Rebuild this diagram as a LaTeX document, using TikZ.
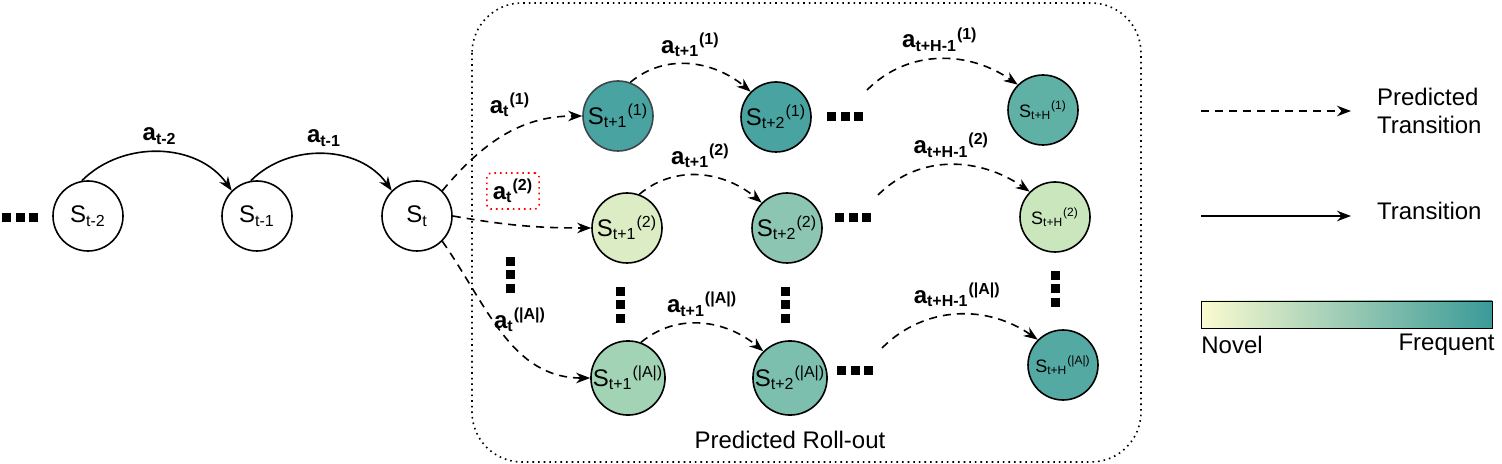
\documentclass[tikz,border=0pt]{standalone}
\usepackage{fontspec}
\setmainfont{Liberation Sans}
\usetikzlibrary{arrows.meta}
\definecolor{novel}{HTML}{FBFBD0}
\definecolor{freq}{HTML}{3A9A98}
\newcommand{\sqdots}{\rule{4.5pt}{4.5pt}\hspace{2.2pt}\rule{4.5pt}{4.5pt}\hspace{2.2pt}\rule{4.5pt}{4.5pt}}
\begin{document}
\begin{tikzpicture}[x=0.5pt,y=-0.5pt]

    \tikzset{
      state/.style={
        circle,
        draw,
        thick,
        minimum size=35pt,
        inner sep=0pt,
        font=\fontsize{12}{13}\selectfont,
      },
      trans/.style={thick,-{Stealth[length=7pt]}},
      pred/.style={trans,dash pattern=on 4pt off 3pt},
      act/.style={font=\bfseries\fontsize{12}{13}\selectfont},
      hdots/.style={inner sep=0pt},
      lbl/.style={font=\fontsize{12}{14}\selectfont},
    }
    \useasboundingbox (0,0) rectangle (1502,464);

	% roll-out box
	\draw[thick,dotted,rounded corners=25pt] (472,3) rectangle (1141,462);
	\node[lbl] (rollout) at (790,440) {Predicted Roll-out};

	% past states
	\node[hdots] (dots0) at (20,218) {\sqdots};
	\node[state] (s2) at (88,216) {S\textsubscript{t-2}};
	\node[state] (s1) at (257,216) {S\textsubscript{t-1}};
	\node[state] (s0) at (417,216) {S\textsubscript{t}};
	\draw[trans] (s2.100) to[out=45,in=125] node[act,above] {a\textsubscript{t-2}} (s1.north west);
	\draw[trans] (s1.100) to[out=45,in=125] node[act,above] {a\textsubscript{t-1}} (s0.north west);

	% predicted states
	\node[state,fill={rgb,255:red,72;green,163;blue,161},draw={rgb,255:red,60;green,70;blue,75}] (p11) at (618,116) {S\textsubscript{t+1}\textsuperscript{(1)}};
	\node[state,fill={rgb,255:red,72;green,163;blue,161}] (p12) at (776,117) {S\textsubscript{t+2}\textsuperscript{(1)}};
	\node[state,fill={rgb,255:red,95;green,176;blue,165}] (p13) at (1043,110) {\small S\textsubscript{t+H}\textsuperscript{(1)}};
	\node[state,fill={rgb,255:red,220;green,237;blue,197}] (p21) at (627,228) {S\textsubscript{t+1}\textsuperscript{(2)}};
	\node[state,fill={rgb,255:red,140;green,197;blue,177}] (p22) at (787,228) {S\textsubscript{t+2}\textsuperscript{(2)}};
	\node[state,fill={rgb,255:red,201;green,230;blue,189}] (p23) at (1055,217) {\small S\textsubscript{t+H}\textsuperscript{(2)}};
	\node[state,fill={rgb,255:red,163;green,211;blue,181}] (p31) at (628,378) {S\textsubscript{t+1}\textsuperscript{(|A|)}};
	\node[state,fill={rgb,255:red,124;green,191;blue,175}] (p32) at (790,378) {S\textsubscript{t+2}\textsuperscript{(|A|)}};
	\node[state,fill={rgb,255:red,85;green,169;blue,163}] (p33) at (1063,365) {\small S\textsubscript{t+H}\textsuperscript{(|A|)}};

	% ellipses
	\node[hdots] (d1) at (845,117) {\sqdots};
	\node[hdots] (d2) at (853,218) {\sqdots};
	\node[hdots] (d3) at (855,370) {\sqdots};
	\node[hdots,rotate=90] (v0) at (510,275) {\sqdots};
	\node[hdots,rotate=90] (v1) at (620,305) {\sqdots};
	\node[hdots,rotate=90] (v2) at (785,305) {\sqdots};
	\node[hdots,rotate=90] (v3) at (1055,289) {\sqdots};
	\coordinate (c1) at (867,90);
	\coordinate (c2) at (878,195);
	\coordinate (c3) at (882,348);

	% first actions
	\draw[pred] (s0.north east) to[out=50,in=180] (p11.west);
	\draw[pred] (s0.east) to[out=-10,in=180] (p21.west);
	\draw[pred] (s0.south east) to[out=-55,in=180] (p31.west);
	\node[act] (a1) at (510,105) {a\textsubscript{t}\textsuperscript{(1)}};
	\node[act,draw=red,thick,dotted,rounded corners=2pt,inner sep=3pt] (a2) at (513,191) {a\textsubscript{t}\textsuperscript{(2)}};
	\node[act] (a3) at (520,320) {a\textsubscript{t}\textsuperscript{(|A|)}};

	% roll-out actions
	\draw[pred] (p11.70) to[out=40,in=140] node[act,above] {a\textsubscript{t+1}\textsuperscript{(1)}} (p12.north west);
	\draw[pred] (p21.70) to[out=40,in=140] node[act,above] {a\textsubscript{t+1}\textsuperscript{(2)}} (p22.north west);
	\draw[pred] (p31.70) to[out=40,in=140] node[act,above] {a\textsubscript{t+1}\textsuperscript{(|A|)}} (p32.north west);
	\draw[pred] (c1) to[out=45,in=145] node[act,above] {a\textsubscript{t+H-1}\textsuperscript{(1)}} (p13.north west);
	\draw[pred] (c2) to[out=45,in=145] node[act,above] {a\textsubscript{t+H-1}\textsuperscript{(2)}} (p23.north west);
	\draw[pred] (c3) to[out=45,in=145] node[act,above] {a\textsubscript{t+H-1}\textsuperscript{(|A|)}} (p33.north west);

	% legend
	\coordinate (l1a) at (1201,111);
	\coordinate (l1b) at (1351,111);
	\coordinate (l2a) at (1201,216);
	\coordinate (l2b) at (1351,216);
	\draw[pred] (l1a) -- (l1b);
	\draw[trans] (l2a) -- (l2b);
	\node[lbl,align=left,anchor=west] (lp) at (1370,111) {Predicted\\Transition};
	\node[lbl,anchor=west] (lt) at (1370,211) {Transition};
	\shade[left color=novel,right color=freq] (1201,301) rectangle (1492,328);
	\draw (1201,301) rectangle (1492,328);
	\node[lbl,anchor=west,inner sep=0pt] (nov) at (1201,345) {Novel};
	\node[lbl,anchor=east,inner sep=0pt] (fre) at (1495,345) {Frequent};

\end{tikzpicture}
\end{document}
